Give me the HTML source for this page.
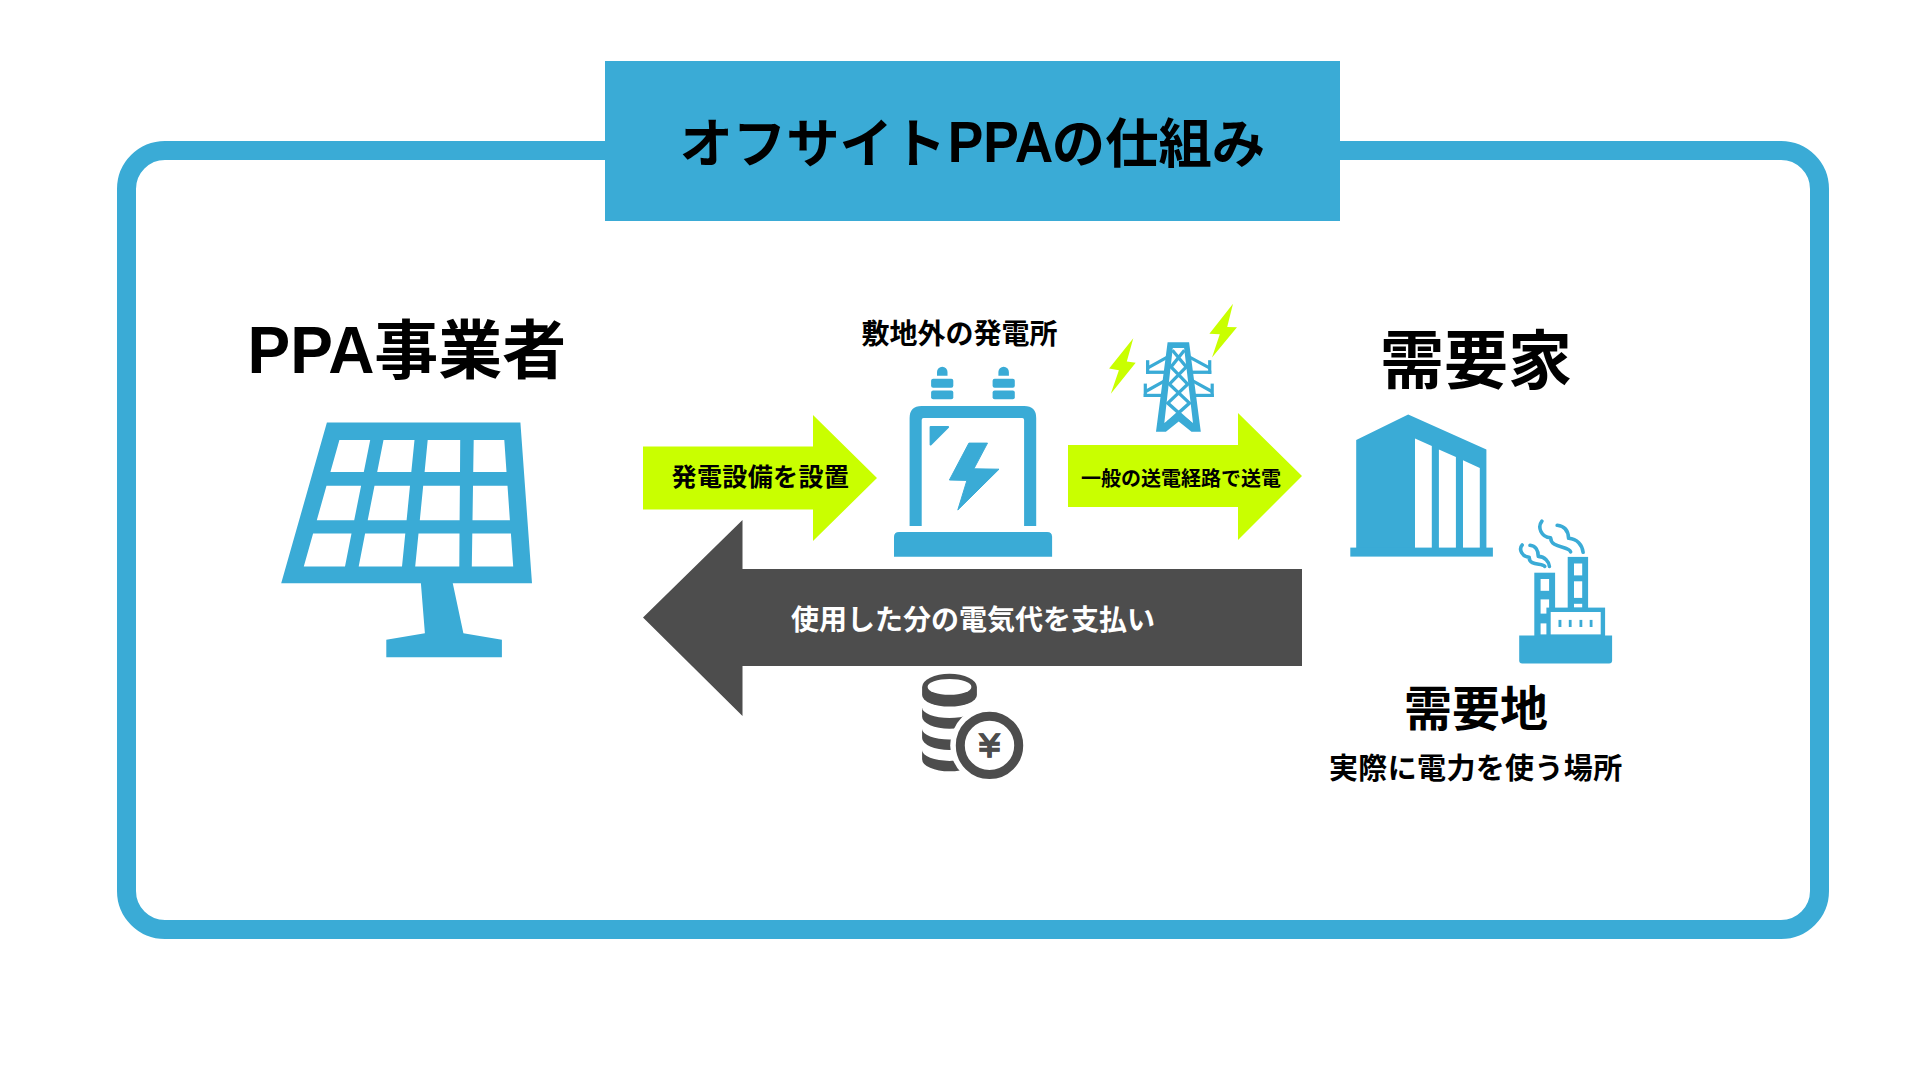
<!DOCTYPE html>
<html lang="ja">
<head>
<meta charset="utf-8">
<title>オフサイトPPAの仕組み</title>
<style>
  html, body { margin: 0; padding: 0; background: #ffffff; }
  body { width: 1920px; height: 1080px; position: relative; overflow: hidden;
         font-family: "Liberation Sans", "Noto Sans CJK JP", sans-serif; font-weight: 700; color: #000; }
  #art { position: absolute; left: 0; top: 0; width: 1920px; height: 1080px; }
  .frame { position: absolute; left: 117px; top: 141px; width: 1674px; height: 760px;
           border: 19px solid #3aabd6; border-radius: 48px; box-sizing: content-box; }
  .titlebox { position: absolute; left: 605px; top: 61px; width: 735px; height: 160px; background: #3aabd6; }
  .t { position: absolute; white-space: nowrap; line-height: 1; margin: 0; }
  .lat { font-family: "Liberation Sans", sans-serif; display: inline-block; transform-origin: 0 84%; }
  #title .lat { margin-left: 1.5px; margin-right: -1.5px; position: relative; top: -1px; transform: scaleY(1.065); }
  #ppa .lat { transform: scaleY(1.035); }
  #title { left: 679.5px; top: 117.7px; font-size: 53.33px; font-weight: 700; }
  #ppa { left: 247.5px; top: 319px; font-size: 64px; }
  #juyoka { left: 1380px; top: 328.5px; font-size: 64px; }
  #plant { left: 861.5px; top: 320.5px; font-size: 28px; }
  #lab1 { left: 671.5px; top: 465px; font-size: 25px; letter-spacing: 0.4px; }
  #lab2 { left: 1081px; top: 468.7px; font-size: 20px; }
  #lab3 { left: 791px; top: 606.5px; font-size: 28px; color: #fff; }
  #juyochi { left: 1404px; top: 685.5px; font-size: 48px; }
  #place { left: 1329px; top: 754.5px; font-size: 29px; letter-spacing: 0.35px; }
</style>
</head>
<body>
<div class="frame"></div>
<div class="titlebox"></div>

<svg id="art" viewBox="0 0 1920 1080" width="1920" height="1080">
  <!-- arrows -->
  <polygon fill="#c9ff00" points="643,446.5 813,446.5 813,415 877,478 813,541 813,509.5 643,509.5"/>
  <polygon fill="#c9ff00" points="1068,445 1238,445 1238,413 1302,476 1238,540 1238,507 1068,507"/>
  <polygon fill="#4d4d4d" points="1302,569 742.5,569 742.5,520 643,617.5 742.5,716 742.5,666 1302,666"/>
  <!-- icons -->
  <g id="icons">
  <path fill="#3aabd6" fill-rule="evenodd" d="M326.9,422.5 L520.4,422.5 L532.0,583.3 L281.2,583.3 Z M339.4,440.1 L370.2,440.1 L363.8,472.1 L330.4,472.1 Z M383.5,440.1 L414.5,440.1 L411.3,472.1 L377.2,472.1 Z M427.7,440.1 L460.2,440.1 L460.0,472.1 L424.6,472.1 Z M473.7,440.1 L504.3,440.1 L506.5,472.1 L473.2,472.1 Z M326.5,485.8 L361.1,485.8 L354.2,520.2 L316.8,520.2 Z M374.5,485.8 L410.0,485.8 L406.6,520.2 L367.7,520.2 Z M423.2,485.8 L459.9,485.8 L459.6,520.2 L419.8,520.2 Z M473.0,485.8 L507.5,485.8 L509.9,520.2 L472.5,520.2 Z M313.1,533.5 L351.5,533.5 L345.0,566.4 L303.8,566.4 Z M365.1,533.5 L405.3,533.5 L402.0,566.4 L358.7,566.4 Z M418.5,533.5 L459.5,533.5 L459.3,566.4 L415.2,566.4 Z M472.3,533.5 L510.9,533.5 L513.2,566.4 L471.8,566.4 Z"/>
  <path fill="#3aabd6" d="M420.8,582.1 L452.5,582.1 L463.4,633.3 L501.9,639.8 L501.9,657.2 L386.3,657.2 L386.3,639.8 L424.9,633.3 Z"/>
  <path fill="#3aabd6" fill-rule="evenodd" d="M1356.2,548.0 L1356.2,440.1 L1408.2,414.5 L1486.4,449.6 L1486.4,548.0 Z M1415.0,438.6 L1431.8,446.1 L1431.8,548.0 L1415.0,548.0 Z M1438.9,449.6 L1455.9,457.1 L1455.9,548.0 L1438.9,548.0 Z M1463.0,460.3 L1479.8,468.0 L1479.8,548.0 L1463.0,548.0 Z"/>
  <rect fill="#3aabd6" x="1350.3" y="547.6" width="142.6" height="9.0"/>
  <path fill="#3aabd6" d="M894.0,556.7 L894.0,537.0 Q894.0,532.0 899.0,532.0 L1047.1,532.0 Q1052.1,532.0 1052.1,537.0 L1052.1,556.7 Z"/>
  <path fill="#3aabd6" d="M909.6,526.1 L909.6,418.0 Q909.6,406.0 921.6,406.0 L1024.2,406.0 Q1036.2,406.0 1036.2,418.0 L1036.2,526.1 L1024.1,526.1 L1024.1,419.90000000000003 Q1024.1,418.1 1022.3,418.1 L923.5,418.1 Q921.7,418.1 921.7,419.90000000000003 L921.7,526.1 Z"/>
  <path fill="#3aabd6" d="M937.0,375.8 L937.0,371.9 A5.2,5.2 0 0 1 947.5,371.9 L947.5,375.8 Z"/>
  <rect fill="#3aabd6" x="931.1" y="378.7" width="22.2" height="9.0" rx="2"/>
  <rect fill="#3aabd6" x="931.1" y="390.6" width="22.2" height="8.7" rx="2"/>
  <path fill="#3aabd6" d="M998.4,375.8 L998.4,371.9 A5.2,5.2 0 0 1 1008.9,371.9 L1008.9,375.8 Z"/>
  <rect fill="#3aabd6" x="992.6" y="378.7" width="22.2" height="9.0" rx="2"/>
  <rect fill="#3aabd6" x="992.6" y="390.6" width="22.2" height="8.7" rx="2"/>
  <path fill="#3aabd6" stroke="#3aabd6" stroke-width="2" stroke-linejoin="round" d="M930.6,427.0 L948.1,427.0 L930.6,444.5 Z"/>
  <path fill="#3aabd6" stroke="#3aabd6" stroke-width="1" stroke-linejoin="round" d="M968.9,443.1 L987.5,443.1 L973.9,468.8 L999.0,469.2 L957.8,510.0 L966.9,480.4 L949.4,480.0 Z"/>
  <path fill="#3aabd6" fill-rule="evenodd" d="M1167.6,342.2 L1189.1,342.2 L1200.8,431.8 L1191.5,431.8 L1178.7,421.6 L1165.9,431.8 L1156.0,431.8 Z M1172.8,348.0 L1184.1,348.0 L1193.0,423.0 L1178.7,411.9 L1164.3,423.0 Z"/>
  <path fill="none" stroke="#3aabd6" stroke-width="3.3" d="M1172.4,350.3 L1186.3,366.9 L1169.4,384.1 L1189.5,403.1 L1167.8,422.5 M1184.4,350.3 L1171.0,366.9 L1187.7,384.1 L1167.8,403.1 L1189.5,422.5"/>
  <rect fill="#3aabd6" x="1146.0" y="370.6" width="21.8" height="3.3"/>
  <rect fill="#3aabd6" x="1190.0" y="370.6" width="21.3" height="3.3"/>
  <rect fill="#3aabd6" x="1146.0" y="360.2" width="3.3" height="13.7"/>
  <rect fill="#3aabd6" x="1208.1" y="360.2" width="3.2" height="13.7"/>
  <rect fill="#3aabd6" x="1143.7" y="393.8" width="20.4" height="3.2"/>
  <rect fill="#3aabd6" x="1192.8" y="393.8" width="21.0" height="3.2"/>
  <rect fill="#3aabd6" x="1143.7" y="383.6" width="3.2" height="13.4"/>
  <rect fill="#3aabd6" x="1210.6" y="383.6" width="3.2" height="13.4"/>
  <path fill="none" stroke="#3aabd6" stroke-width="3.2" d="M1147.9,367.9 L1167.8,356.8 M1209.4,367.9 L1189.1,356.8 M1145.6,391.5 L1166.4,379.9 M1211.9,391.5 L1190.9,379.9"/>
  <path fill="#c9ff00" d="M1133.3,338.2 L1126.8,361.4 L1135.7,362.8 L1110.8,393.7 L1118.9,370.2 L1109.1,368.6 Z"/>
  <path fill="#c9ff00" d="M1233.0,303.7 L1227.2,326.9 L1237.0,327.2 L1212.0,357.4 L1219.8,334.2 L1209.4,333.7 Z"/>
  <path fill="#3aabd6" d="M1519.2,635.6 L1612.1,635.6 L1612.1,660.6 Q1612.1,663.6 1609.1,663.6 L1522.2,663.6 Q1519.2,663.6 1519.2,660.6 Z"/>
  <rect fill="#3aabd6" x="1534.3" y="572.7" width="20.8" height="63.7"/>
  <rect fill="#fff" x="1540.6" y="579.0" width="8.5" height="11.8"/>
  <rect fill="#fff" x="1540.6" y="599.4" width="8.5" height="14.2"/>
  <rect fill="#fff" x="1540.6" y="623.4" width="8.5" height="11.0"/>
  <rect fill="#3aabd6" x="1567.7" y="556.9" width="20.4" height="52.0"/>
  <rect fill="#fff" x="1574.0" y="563.5" width="8.2" height="11.9"/>
  <rect fill="#fff" x="1574.0" y="581.3" width="8.2" height="16.6"/>
  <rect fill="#fff" x="1574.0" y="603.8" width="8.2" height="3.8"/>
  <rect fill="#3aabd6" x="1546.4" y="607.6" width="58.7" height="28.8"/>
  <rect fill="#fff" x="1550.7" y="612.0" width="50.0" height="22.4"/>
  <rect fill="#3aabd6" x="1558.5" y="619.9" width="2.9" height="7.1"/>
  <rect fill="#3aabd6" x="1568.8" y="619.9" width="2.8" height="7.1"/>
  <rect fill="#3aabd6" x="1579.5" y="619.9" width="2.8" height="7.1"/>
  <rect fill="#3aabd6" x="1589.7" y="619.9" width="2.8" height="7.1"/>
  <path fill="none" stroke="#3aabd6" stroke-width="3.6" stroke-linecap="round" stroke-linejoin="round" d="M1541.9,521.1 C1537.2,527.2 1541.1,537.2 1550.6,537.8 C1550.6,548.3 1569.4,546.1 1570.6,551.9 M1557.2,525.3 C1565.0,526.1 1568.3,531.7 1568.6,538.3 C1577.2,538.9 1582.2,545.0 1583.1,552.3 M1522.2,545.0 C1518.3,549.4 1522.2,556.7 1529.2,557.2 C1528.9,566.1 1542.8,562.8 1544.7,566.4 M1530.0,545.3 C1535.6,545.8 1538.3,550.6 1538.3,556.4 C1545.0,556.7 1548.9,561.7 1549.4,566.4"/>
  <path fill="#4d4d4d" d="M922.1,686.9 A27.4,13.04 0 0 1 976.9,686.9 L976.9,695.0 A27.4,11.6 0 0 1 922.1,695.0 Z"/>
  <ellipse fill="#fff" cx="949.5" cy="686.9" rx="21.9" ry="7.95"/>
  <path fill="#4d4d4d" d="M922.1,707.4 A27.4,10.6 0 0 0 976.9,707.4 L976.9,716.7 A27.4,12.0 0 0 1 922.1,716.7 Z"/>
  <path fill="#4d4d4d" d="M922.1,729.0 A27.4,10.6 0 0 0 976.9,729.0 L976.9,737.9 A27.4,12.0 0 0 1 922.1,737.9 Z"/>
  <path fill="#4d4d4d" d="M922.1,750.3 A27.4,10.6 0 0 0 976.9,750.3 L976.9,759.3 A27.4,12.0 0 0 1 922.1,759.3 Z"/>
  <rect fill="#fff" x="972" y="703" width="7" height="10"/>
  <circle fill="#fff" cx="989.5" cy="745.4" r="39.3"/>
  <circle fill="none" stroke="#4d4d4d" stroke-width="9" cx="989.5" cy="745.4" r="29.2"/>
  <text x="989.6" y="759" text-anchor="middle" font-family="IPAGothic, 'Noto Sans CJK JP', sans-serif" font-size="32" fill="#4d4d4d" stroke="#4d4d4d" stroke-width="0.7" stroke-linejoin="miter">¥</text>
  </g>
</svg>

<h1 class="t" id="title">オフサイト<span class="lat">PPA</span>の仕組み</h1>
<div class="t" id="ppa"><span class="lat">PPA</span>事業者</div>
<div class="t" id="juyoka">需要家</div>
<div class="t" id="plant">敷地外の発電所</div>
<div class="t" id="lab1">発電設備を設置</div>
<div class="t" id="lab2">一般の送電経路で送電</div>
<div class="t" id="lab3">使用した分の電気代を支払い</div>
<div class="t" id="juyochi">需要地</div>
<div class="t" id="place">実際に電力を使う場所</div>
</body>
</html>
